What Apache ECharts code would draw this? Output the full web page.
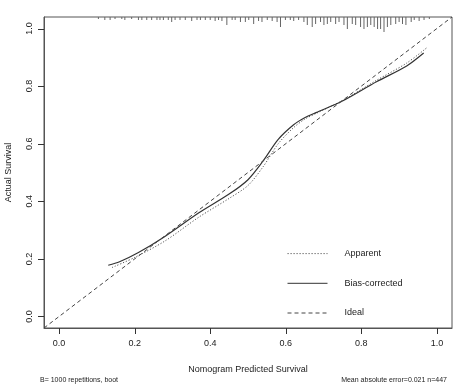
<!DOCTYPE html>
<html>
<head>
<meta charset="utf-8">
<script src="https://cdn.jsdelivr.net/npm/echarts@6/dist/echarts.min.js"></script>
<style>html,body{margin:0;padding:0;background:#fff}#c{width:474px;height:386px}</style>
</head>
<body>
<div id="c"></div>
<script>
// Tick labels
const tickValues = [0, 0.2, 0.4, 0.6, 0.8, 1.0];
// Bias-corrected calibration curve
const biasX = [0.13, 0.16, 0.21, 0.28, 0.37, 0.45, 0.50, 0.54, 0.58, 0.62, 0.65, 0.68, 0.75, 0.84, 0.92, 0.965];
const biasY = [0.178, 0.19, 0.222, 0.278, 0.36, 0.425, 0.475, 0.54, 0.615, 0.665, 0.69, 0.708, 0.748, 0.815, 0.87, 0.915];
// Apparent calibration curve
const apparentX = [0.14, 0.20, 0.28, 0.37, 0.45, 0.50, 0.54, 0.58, 0.62, 0.65, 0.68, 0.75, 0.84, 0.92, 0.975];
const apparentY = [0.17, 0.205, 0.262, 0.345, 0.41, 0.455, 0.52, 0.6, 0.655, 0.685, 0.705, 0.75, 0.82, 0.88, 0.935];
// Ideal line
const idealX = [-0.04, 1.04];
const idealY = [-0.04, 1.04];
// Distribution of predicted values (spike histogram at top)
const rugX = [0.104,0.121,0.135,0.148,0.166,0.174,0.192,0.210,0.219,0.232,
  0.245,0.259,0.267,0.276,0.289,0.298,0.307,0.320,0.334,0.351,
  0.365,0.374,0.387,0.400,0.413,0.422,0.431,0.444,0.458,0.466,
  0.480,0.493,0.502,0.515,0.528,0.537,0.551,0.564,0.577,0.586,
  0.599,0.612,0.621,0.634,0.648,0.657,0.670,0.679,0.692,0.701,
  0.710,0.719,0.732,0.741,0.754,0.763,0.776,0.785,0.798,0.807,
  0.816,0.825,0.834,0.843,0.851,0.860,0.869,0.878,0.891,0.900,
  0.909,0.918,0.932,0.940,0.953,0.966,0.980];
const rugN = [2,3,3,2,2,3,2,3,3,3,
  3,3,3,3,3,5,3,3,3,4,
  3,3,3,3,4,3,4,8,3,3,
  5,5,3,7,4,5,3,4,5,10,
  3,3,4,3,5,8,10,7,5,8,
  7,5,7,5,8,12,7,8,10,12,
  10,8,10,12,12,15,10,8,7,5,
  7,8,5,3,4,3,2];

const AX_MIN = -0.04, AX_MAX = 1.04;
const TICK_LEN = 6;
const zip = (a, b) => a.map((v, i) => [v, b[i]]);
const font = 'Liberation Sans, Arial, sans-serif';
const txt = '#222';

const chart = echarts.init(document.getElementById('c'), null, {renderer: 'canvas'});
chart.setOption({
  animation: false,
  backgroundColor: '#fff',
  textStyle: {fontFamily: font},
  grid: {left: 44, right: 22, top: 17, bottom: 58, show: true, borderColor: '#555', borderWidth: 1,
    backgroundColor: 'transparent', containLabel: false, outerBoundsMode: 'none'},
  title: [
    {text: 'B= 1000 repetitions, boot', left: 40, top: 377, textStyle: {fontSize: 7, fontWeight: 'normal', color: txt, fontFamily: font}, padding: 0},
    {text: 'Mean absolute error=0.021 n=447', right: 27, top: 377, textStyle: {fontSize: 7, fontWeight: 'normal', color: txt, fontFamily: font}, padding: 0}
  ],
  legend: {
    orient: 'vertical', left: 282, top: 243, itemWidth: 40, itemHeight: 14, itemGap: 18.5,
    data: ['Apparent', 'Bias-corrected', 'Ideal'],
    itemStyle: {opacity: 0},
    lineStyle: {width: 1},
    textStyle: {fontSize: 9, color: txt, fontFamily: font, padding: [0, 0, 0, 12]}
  },
  xAxis: {
    type: 'value', min: AX_MIN, max: AX_MAX,
    name: 'Nomogram Predicted Survival', nameLocation: 'middle', nameGap: 37,
    nameTextStyle: {fontSize: 9, color: txt, fontFamily: font},
    axisLine: {show: true, onZero: false, lineStyle: {color: '#555', width: 1}},
    axisTick: {show: false},
    axisLabel: {customValues: tickValues, fontSize: 9, color: txt, margin: 11, formatter: v => v.toFixed(1)},
    splitLine: {show: false}
  },
  yAxis: {
    type: 'value', min: AX_MIN, max: AX_MAX,
    name: 'Actual Survival', nameLocation: 'middle', nameGap: 31, nameRotate: 90,
    nameTextStyle: {fontSize: 9, color: txt, fontFamily: font},
    axisLine: {show: true, onZero: false, lineStyle: {color: '#555', width: 1}},
    axisTick: {show: false},
    axisLabel: {customValues: tickValues, fontSize: 9, color: txt, margin: 10, rotate: 90, formatter: v => v.toFixed(1)},
    splitLine: {show: false}
  },
  graphic: [],
  series: [
    {name: 'Apparent', type: 'line', data: zip(apparentX, apparentY), smooth: 0.3, symbol: 'none',
      itemStyle: {color: '#555'},
      lineStyle: {color: '#555', width: 1, type: [1.2, 1.8]}},
    {name: 'Bias-corrected', type: 'line', data: zip(biasX, biasY), smooth: 0.3, symbol: 'none',
      itemStyle: {color: '#333'},
      lineStyle: {color: '#333', width: 1.2, type: 'solid'}},
    {name: 'Ideal', type: 'line', data: zip(idealX, idealY), symbol: 'none', clip: true,
      itemStyle: {color: '#444'},
      lineStyle: {color: '#444', width: 1, type: [4, 3]}},
    {name: 'rug', type: 'custom', data: zip(rugX, rugN), silent: true,
      renderItem: function (params, api) {
        const top = api.coord([api.value(0), AX_MAX]);
        return {type: 'line', shape: {x1: top[0], y1: top[1], x2: top[0], y2: top[1] + api.value(1)},
          style: {stroke: '#666', lineWidth: 1}};
      }}
  ]
});
// Axis ticks outside the frame, placed through the axes' own scales
const g = [];
tickValues.forEach(v => {
  const px = chart.convertToPixel({gridIndex: 0}, [v, AX_MIN]);
  const x = Math.round(px[0]) + 0.5;
  g.push({type: 'line', z: 100, silent: true, shape: {x1: x, y1: px[1], x2: x, y2: px[1] + TICK_LEN},
    style: {stroke: '#333', lineWidth: 1}});
  const py = chart.convertToPixel({gridIndex: 0}, [AX_MIN, v]);
  const y = Math.round(py[1]) + 0.5;
  g.push({type: 'line', z: 100, silent: true, shape: {x1: py[0], y1: y, x2: py[0] - TICK_LEN, y2: y},
    style: {stroke: '#333', lineWidth: 1}});
});
chart.setOption({graphic: g});
</script>
</body>
</html>
